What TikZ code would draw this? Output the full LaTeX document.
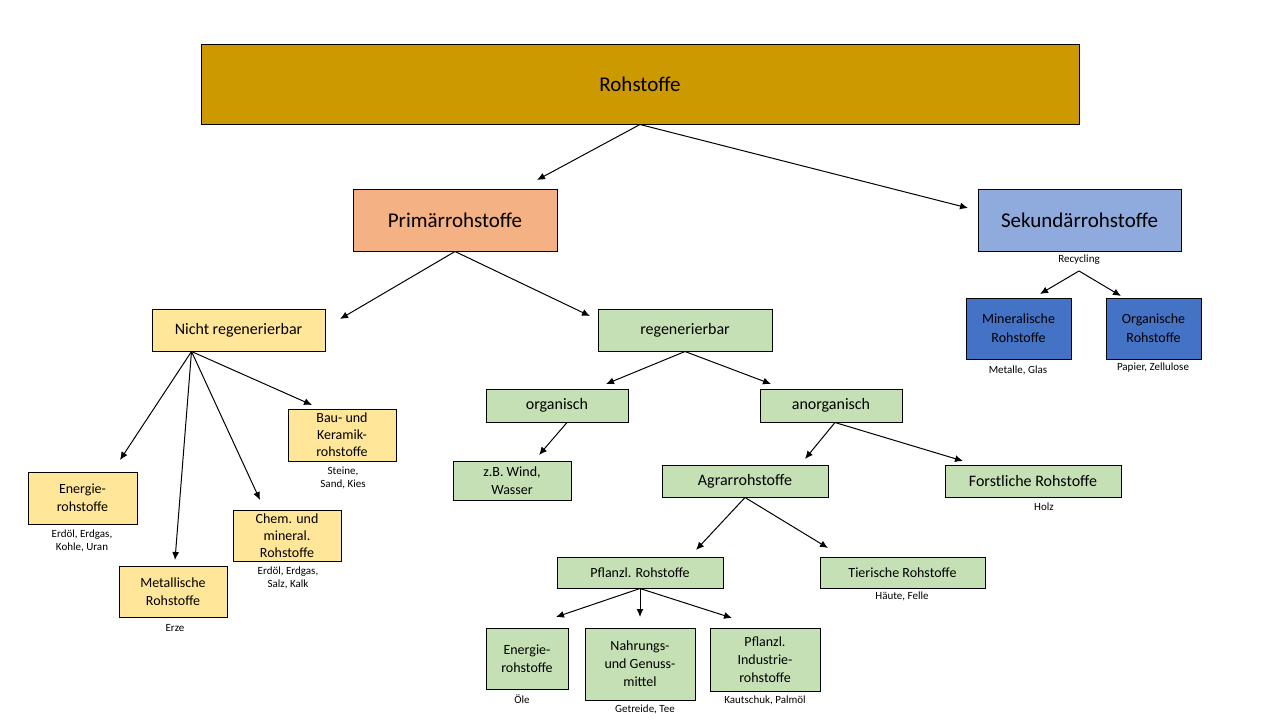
\documentclass[tikz,border=0pt]{standalone}
\usepackage{fontspec}
\setmainfont{Carlito}
\usetikzlibrary{arrows.meta}
\definecolor{gold}{HTML}{CC9900}
\definecolor{peach}{HTML}{F4B183}
\definecolor{lblue}{HTML}{8FAADC}
\definecolor{dblue}{HTML}{4472C4}
\definecolor{yel}{HTML}{FFE699}
\definecolor{grn}{HTML}{C5E0B4}
\begin{document}
\begin{tikzpicture}[x=1pt,y=-1pt,
  box/.style={draw=black,line width=1pt,align=center,inner sep=0pt,font=\fontsize{15}{17}\selectfont},
  sm/.style={font=\fontsize{11}{13}\selectfont,align=center,inner sep=0pt},
  arr/.style={line width=1pt,-{Latex[length=8pt,width=7pt]}}]
\useasboundingbox (0,0) rectangle (1280,720);
\newcommand\bx[7]{\node[box,#6,minimum width=#4-#2,minimum height=#5-#3] (#1) at ({(#2+#4)/2},{(#3+#5)/2}) {#7};}
\bx{roh}{201}{44}{1079}{124}{fill=gold,font=\fontsize{21}{24}\selectfont}{Rohstoffe}
\bx{prim}{353}{189}{557}{251}{fill=peach,font=\fontsize{21}{24}\selectfont}{Primärrohstoffe}
\bx{sek}{978}{189}{1181}{251}{fill=lblue,font=\fontsize{21}{24}\selectfont}{Sekundärrohstoffe}
\node[sm] (rec) at (1079,260) {Recycling};
\bx{min}{966}{298}{1071}{359}{fill=dblue,font=\fontsize{14}{19}\selectfont}{Mineralische\\Rohstoffe}
\bx{org}{1106}{298}{1201}{359}{fill=dblue,font=\fontsize{14}{19}\selectfont}{Organische\\Rohstoffe}
\node[sm] at (1018,370) {Metalle, Glas};
\node[sm] at (1153,368) {Papier, Zellulose};
\bx{nreg}{152}{309}{325}{351}{fill=yel,font=\fontsize{16}{19}\selectfont}{Nicht regenerierbar}
\bx{reg}{598}{309}{772}{351}{fill=grn,font=\fontsize{16}{19}\selectfont}{regenerierbar}
\bx{orga}{486}{389}{628}{422}{fill=grn,font=\fontsize{16}{19}\selectfont}{organisch}
\bx{anorg}{760}{389}{902}{422}{fill=grn,font=\fontsize{16}{19}\selectfont}{anorganisch}
\bx{wind}{453}{461}{571}{500}{fill=grn,font=\fontsize{14}{18}\selectfont}{z.B. Wind,\\Wasser}
\bx{agrar}{662}{465}{828}{497}{fill=grn,font=\fontsize{16}{19}\selectfont}{Agrarrohstoffe}
\bx{forst}{945}{465}{1121}{497}{fill=grn,font=\fontsize{16}{19}\selectfont}{Forstliche Rohstoffe}
\node[sm] at (1044,507) {Holz};
\bx{pfl}{557}{557}{723}{588}{fill=grn,font=\fontsize{14}{17}\selectfont}{Pflanzl. Rohstoffe}
\bx{tier}{820}{557}{985}{588}{fill=grn,font=\fontsize{14}{17}\selectfont}{Tierische Rohstoffe}
\node[sm] at (902,596) {Häute, Felle};
\bx{eng}{486}{628}{568}{689}{fill=grn,font=\fontsize{14}{18}\selectfont}{Energie-\\rohstoffe}
\node[sm] at (522,699) {Öle};
\bx{nahr}{585}{628}{695}{700}{fill=grn,font=\fontsize{14}{18}\selectfont}{Nahrungs-\\und Genuss-\\mittel}
\node[sm] at (645,709) {Getreide, Tee};
\bx{ind}{710}{628}{820}{691}{fill=grn,font=\fontsize{14}{18}\selectfont}{Pflanzl.\\Industrie-\\rohstoffe}
\node[sm] at (765,700) {Kautschuk, Palmöl};
\bx{eny}{28}{472}{137}{524}{fill=yel,font=\fontsize{14}{18}\selectfont}{Energie-\\rohstoffe}
\node[sm] at (82,541) {Erdöl, Erdgas,\\Kohle, Uran};
\bx{met}{119}{566}{227}{617}{fill=yel,font=\fontsize{14}{18}\selectfont}{Metallische\\Rohstoffe}
\node[sm] at (175,628) {Erze};
\bx{chem}{233}{510}{341}{561}{fill=yel,font=\fontsize{14}{17}\selectfont}{Chem. und\\mineral.\\Rohstoffe}
\node[sm] at (288,578) {Erdöl, Erdgas,\\Salz, Kalk};
\bx{bau}{288}{409}{396}{461}{fill=yel,font=\fontsize{14}{17}\selectfont}{Bau- und\\Keramik-\\rohstoffe}
\node[sm] at (343,478) {Steine,\\Sand, Kies};
% arrow ends
\coordinate (e1) at (537,180); \coordinate (e2) at (968,208);
\coordinate (e3) at (340,319); \coordinate (e4) at (590,316);
\coordinate (e5) at (1040,294); \coordinate (e6) at (1121,296);
\coordinate (e7) at (120,460); \coordinate (e8) at (175,560);
\coordinate (e9) at (260,500); \coordinate (e10) at (312,405);
\coordinate (e11) at (606,384); \coordinate (e12) at (771,384);
\coordinate (e13) at (539,455);
\coordinate (e14) at (805,459); \coordinate (e15) at (963,461);
\coordinate (e16) at (696,550); \coordinate (e17) at (828,548);
\coordinate (e18) at (556,617); \coordinate (e19) at (640,617); \coordinate (e20) at (732,618);
\draw[arr] (roh.south) -- (e1); \draw[arr] (roh.south) -- (e2);
\draw[arr] (prim.south) -- (e3); \draw[arr] (prim.south) -- (e4);
\draw[arr] (rec.south) ++(0,6) -- (e5); \draw[arr] (rec.south) ++(0,6) -- (e6);
\foreach \e in {e7,e8,e9,e10} \draw[arr] ([xshift=-47pt]nreg.south) -- (\e);
\draw[arr] (reg.south) -- (e11); \draw[arr] (reg.south) -- (e12);
\draw[arr] ([xshift=10pt]orga.south) -- (e13);
\draw[arr] ([xshift=4pt]anorg.south) -- (e14); \draw[arr] ([xshift=4pt]anorg.south) -- (e15);
\draw[arr] (agrar.south) -- (e16); \draw[arr] (agrar.south) -- (e17);
\draw[arr] (pfl.south) -- (e18); \draw[arr] (pfl.south) -- (e19); \draw[arr] (pfl.south) -- (e20);
\end{tikzpicture}
\end{document}
